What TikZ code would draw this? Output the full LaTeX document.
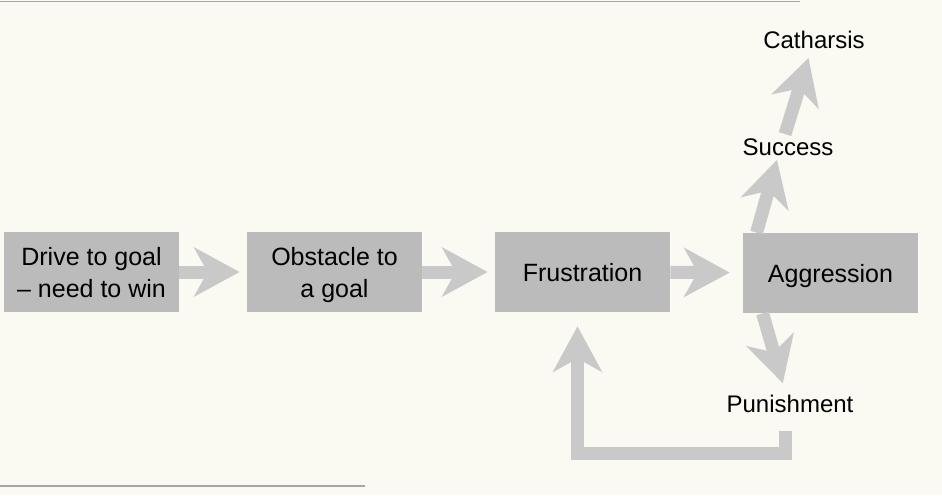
\documentclass[tikz,border=0pt]{standalone}
\usepackage{fontspec}
\setmainfont{Liberation Sans}
\usetikzlibrary{arrows.meta}
\definecolor{boxgrey}{HTML}{BBBBBB}
\definecolor{arrowgrey}{HTML}{C9C9C9}
\definecolor{paper}{HTML}{FAFAF3}
\tikzset{
    grey-box/.style = {fill=boxgrey, rectangle, minimum width=87.5pt, minimum height=40pt, align=center, text depth=0pt, font=\fontsize{12.5}{16}\selectfont},
    plain-label/.style = {font=\fontsize{12}{15.5}\selectfont, inner sep=2pt},
    flow-arrow/.style = {draw=arrowgrey, line width=6.5pt, -{Stealth[length=23pt, width=25pt, inset=7pt, line width=0pt]}},
}

\begin{document}
\begin{tikzpicture}[x=0.5pt, y=-0.5pt]
\useasboundingbox (0,0) rectangle (942,495);
\fill[paper] (0,0) rectangle (942,495);
\draw[gray!70, line width=0.8pt] (0,1.5) -- (800,1.5);
\draw[gray!70, line width=0.8pt] (0,486) -- (365,486);

\node[grey-box] (drive) at (91.5,272) {Drive to goal\\– need to win};
\node[grey-box] (obstacle) at (334.5,272) {Obstacle to\\a goal};
\node[grey-box] (frustration) at (582.5,272) {Frustration};
\node[grey-box] (aggression) at (830.5,273) {Aggression};
\node[plain-label] (success) at (788,147) {Success};
\node[plain-label] (catharsis) at (814,40) {Catharsis};
\node[plain-label] (punishment) at (790,404) {Punishment};

\draw[flow-arrow, shorten >=3.5pt] (drive) -- (obstacle);
\draw[flow-arrow, shorten >=3.5pt] (obstacle) -- (frustration);
\draw[flow-arrow, shorten >=6.5pt] (frustration) -- (aggression);
\draw[flow-arrow] ([xshift=7pt]aggression.north west) -- ([xshift=-5.5pt]success.south);
\draw[flow-arrow, shorten >=2.5pt] ([xshift=-1.5pt]success.north) -- ([xshift=-2pt]catharsis.south);
\draw[flow-arrow, shorten >=4pt] ([xshift=10pt]aggression.south west) -- ([xshift=-2.5pt]punishment.north);
\draw[flow-arrow, shorten >=7pt] ([xshift=-2.5pt, yshift=-7pt]punishment.south) -- ++(0,22) -| ([xshift=-2.5pt]frustration.south);
\end{tikzpicture}
\end{document}
